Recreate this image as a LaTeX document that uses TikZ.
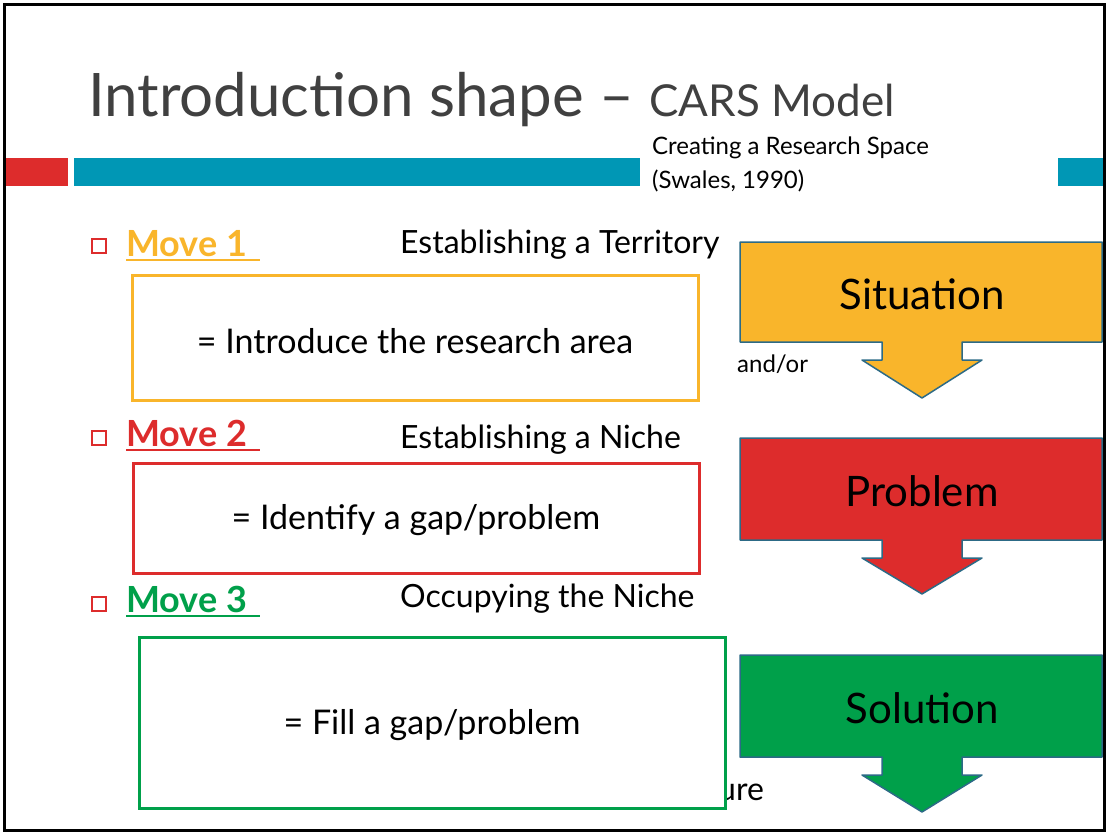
\documentclass[tikz,border=0pt]{standalone}
\usepackage{fontspec}
\setmainfont{Lato}
\definecolor{tl}{HTML}{0097B5}
\definecolor{rd}{HTML}{DD2C2C}
\definecolor{og}{HTML}{F9B52B}
\definecolor{gn}{HTML}{00A04A}
\definecolor{tt}{HTML}{404040}
\definecolor{ol}{HTML}{2C6A86}
\begin{document}
\begin{tikzpicture}[x=1pt,y=-1pt,
  txt/.style={anchor=base west,inner sep=0,font=\fontsize{32}{34}\selectfont},
  bul/.style={draw=rd,line width=1.8pt,minimum size=14pt,inner sep=0},
  mv/.style={anchor=base west,inner sep=0,font=\fontsize{36}{38}\selectfont\bfseries},
  inb/.style={font=\fontsize{34}{36}\selectfont},
  lab/.style={font=\fontsize{42}{44}\selectfont}]
\useasboundingbox (0,0) rectangle (1110,835);
\fill[white] (0,0) rectangle (1110,835);
\node[anchor=base west,inner sep=0,text=tt] (title) at (88,116) {{\fontsize{60}{64}\selectfont Introduction shape \textendash\ }{\fontsize{44}{48}\selectfont CARS Model}};
\fill[rd] (6,158) rectangle (68,186);
\fill[tl] (74,158) rectangle (640,186);
\fill[tl] (1058,158) rectangle (1104,186);
\node[anchor=base west,inner sep=0,font=\fontsize{24}{26}\selectfont] (crs) at (652,154) {Creating a Research Space};
\node[anchor=base west,inner sep=0,font=\fontsize{24}{26}\selectfont] (sw) at (652,188) {(Swales, 1990)};
% moves
\node[bul] (b1) at (99,246) {};
\node[mv,text=og] (m1) at (126,256) {Move 1};
\draw[og,line width=2pt] (m1.base west)++(0,4) -- ++(134,0);
\node[txt] (e1) at (400,253) {Establishing a Territory};
\node[bul] (b2) at (99,438) {};
\node[mv,text=rd] (m2) at (126,446) {Move 2};
\draw[rd,line width=2pt] (m2.base west)++(0,4) -- ++(134,0);
\node[txt] (e2) at (400,448) {Establishing a Niche};
\node[bul] (b3) at (99,604) {};
\node[mv,text=gn] (m3) at (126,612) {Move 3};
\draw[gn,line width=2pt] (m3.base west)++(0,4) -- ++(134,0);
\node[txt] (e3) at (400,607) {Occupying the Niche};
\node[anchor=base west,inner sep=0,font=\fontsize{24}{26}\selectfont] (ao) at (737,372) {and/or};
\node[txt] (ure) at (718,800) {ure};
% boxes
\draw[og,line width=3pt,fill=white] (132,275) rectangle (698,400);
\node[inb] (t1) at (415,341) {= Introduce the research area};
\draw[rd,line width=3pt,fill=white] (133,463) rectangle (699,573);
\node[inb] (t2) at (416,520) {= Identify a gap/problem};
\draw[gn,line width=3pt,fill=white] (139,637) rectangle (725,808);
\node[inb] (t3) at (432,725) {= Fill a gap/problem};
% arrows
\foreach \c/\t/\b/\tip/\n/\s in {og/242/342/398/sit/Situation, rd/438/540/594/pro/Problem, gn/655/757/812/sol/Solution}{
  \draw[ol,line width=1.5pt,line join=round,fill=\c] (740,\t) -- (1102,\t) -- (1102,\b) -- (962,\b) -- (962,\b+18) -- (982,\b+18) -- (922,\tip) -- (862,\b+18) -- (882,\b+18) -- (882,\b) -- (740,\b) -- cycle;
  \node[lab] (\n) at (922,{(\t+\b)/2+2}) {\s};
}
\draw[line width=3pt] (4,4) rectangle (1104,830);
\end{tikzpicture}
\end{document}
